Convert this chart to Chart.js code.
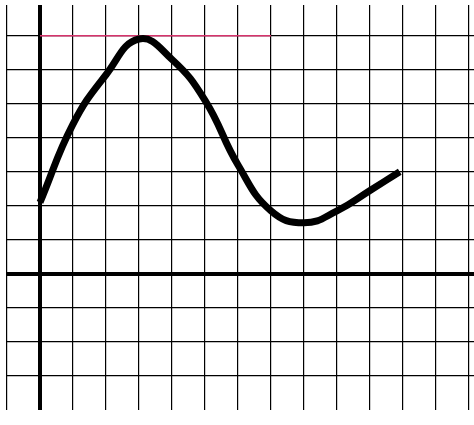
<!DOCTYPE html>
<html><head><script src="https://cdn.jsdelivr.net/npm/chart.js"></script>
<style>body{margin:0;background:#fff}#w{width:474px;height:425px}</style></head>
<body><div id="w"><canvas id="c"></canvas></div>
<script>
const xs=[0,1,2,3,4,5,6,7,8,9,10,10.9];
const ys=[2.1,4.4,5.85,6.9,6.3,5.1,3.2,1.85,1.5,1.85,2.45,3.0];
const refX=[0,7], refY=[7,7];
const grid=()=>({color:'#000',lineWidth:(ctx)=>ctx.tick&&ctx.tick.value===0?4:1.2});
new Chart(document.getElementById('c'),{type:'scatter',
data:{datasets:[
{data:xs.map((x,i)=>({x,y:ys[i]})),showLine:true,borderColor:'#000',borderWidth:7,pointRadius:0,tension:0.45,borderCapStyle:'butt'},
{data:refX.map((x,i)=>({x,y:refY[i]})),showLine:true,borderColor:'#d6336c',borderWidth:1.5,pointRadius:0}]},
options:{animation:false,responsive:true,maintainAspectRatio:false,
layout:{padding:{left:7,right:0,top:5,bottom:15}},
plugins:{legend:{display:false},tooltip:{enabled:false}},
scales:{
x:{type:'linear',min:-1,max:13.15,afterBuildTicks:a=>{a.ticks=[];for(let i=-1;i<=13;i++)a.ticks.push({value:i});},ticks:{display:false},border:{display:false},grid:{...grid(),drawTicks:false}},
y:{type:'linear',min:-4,max:7.9,afterBuildTicks:a=>{a.ticks=[];for(let i=-3;i<=7;i++)a.ticks.push({value:i});},ticks:{display:false},border:{display:false},grid:{...grid(),drawTicks:false}}
}}});
</script></body></html>
